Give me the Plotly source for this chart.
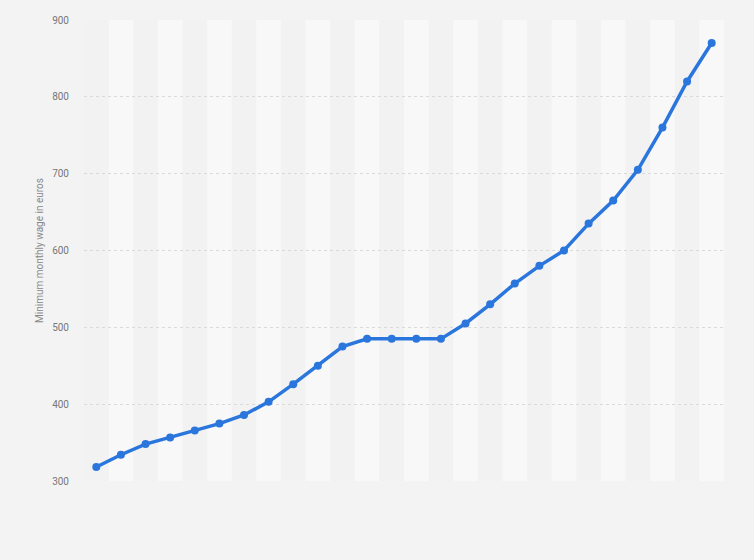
import plotly.graph_objects as go

years = list(range(2000, 2026))
wages = [318.2, 334.2, 348.0, 356.6, 365.6, 374.7, 385.9, 403.0, 426.0, 450.0,
         475.0, 485.0, 485.0, 485.0, 485.0, 505.0, 530.0, 557.0, 580.0, 600.0,
         635.0, 665.0, 705.0, 760.0, 820.0, 870.0]
y_ticks = [300, 400, 500, 600, 700, 800, 900]
y_title = "Minimum monthly wage in euros"

fig = go.Figure()
fig.add_trace(go.Scatter(
    x=years, y=wages, mode="lines+markers",
    line=dict(color="#2a76dd", width=3.5),
    marker=dict(color="#2a76dd", size=8),
    hoverinfo="x+y", showlegend=False,
))

shapes = []
for i, yr in enumerate(years):
    if i % 2 == 1:
        shapes.append(dict(type="rect", xref="x", yref="y",
                           x0=yr - 0.5, x1=yr + 0.5, y0=300, y1=900,
                           fillcolor="#f8f8f8", line=dict(width=0), layer="below"))

fig.update_layout(
    width=754, height=560,
    margin=dict(l=84, r=30, t=20, b=79),
    paper_bgcolor="#f3f3f3", plot_bgcolor="#f2f2f2",
    font=dict(family="Roboto, Arial, sans-serif", color="#777777", size=10),
    shapes=shapes,
    xaxis=dict(range=[years[0] - 0.5, years[-1] + 0.5], showticklabels=False,
               showgrid=False, zeroline=False, showline=False, ticks=""),
    yaxis=dict(range=[300, 900], tickvals=y_ticks, showgrid=True,
               gridcolor="#dadada", griddash="dot", gridwidth=1,
               zeroline=False, showline=False, ticks="",
               ticklabelstandoff=14,
               title=dict(text=y_title, font=dict(size=10, color="#888888"), standoff=6)),
)

fig.write_html("out.html", config={"displayModeBar": False},
               post_script="document.body.style.margin='0';document.body.style.background='#f3f3f3';")
